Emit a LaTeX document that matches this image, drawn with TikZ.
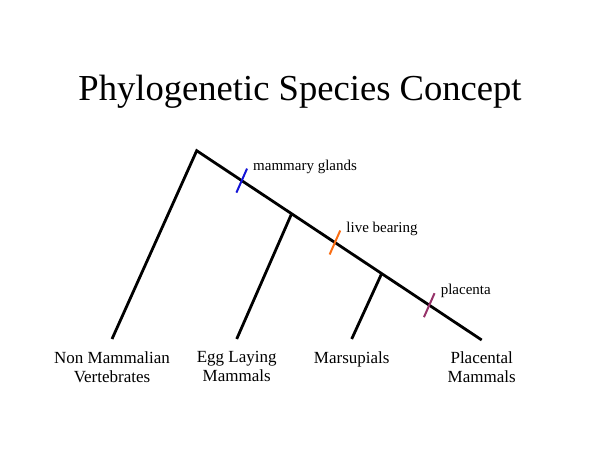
\documentclass[tikz,border=0pt]{standalone}
\usepackage{fontspec}
\setmainfont{Liberation Serif}
\usetikzlibrary{calc}

\begin{document}
\begin{tikzpicture}[x=1pt,y=-1pt,label distance=12pt,
  branch/.style={line width=2.8pt},
  trait/.style={line width=2pt},
  leaf/.style={align=center,inner sep=0pt,font=\fontsize{17}{19}\selectfont},
  tag/.style={anchor=base west,inner sep=0pt,font=\fontsize{15}{18}\selectfont}]
\definecolor{glands}{RGB}{20,20,215} \definecolor{bearing}{RGB}{250,110,20}
\definecolor{placenta}{RGB}{150,50,105}
\useasboundingbox (0,0) rectangle (600,450);
\node [anchor=base,font=\fontsize{36.6}{42}\selectfont] (title) at (300,100) {Phylogenetic Species Concept};
% tree
\coordinate (root) at (196.7,150.7);
\coordinate [label={[leaf]below:Non Mammalian\\Vertebrates}] (nonmam) at (112,339);
\coordinate [label={[leaf]below:Egg Laying\\Mammals}] (egg) at (236.7,339);
\coordinate [label={[leaf]below:Marsupials}] (mars) at (351.7,339);
\coordinate [label={[leaf]below:Placental\\Mammals}] (plac) at (481.7,340);
\coordinate (eggfork) at ($(root)!0.333!(plac)$);
\coordinate (marsfork) at ($(root)!0.649!(plac)$);
\draw [branch] (nonmam) -- (root) -- (plac);
\draw [branch] (eggfork) -- (egg);
\draw [branch] (marsfork) -- (mars);
% traits
\foreach \pos/\trait/\name in {0.158/glands/mammary glands,0.485/bearing/live bearing,0.816/placenta/placenta}
{
\coordinate (mark) at ($(root)!\pos!(plac)$);
\draw [trait,\trait] ($(mark)+(5.3,-12)$) coordinate (tip) -- ($(mark)+(-5.3,12)$);
\node [tag] (\trait-text) at ($(tip)+(6,1.5)$) {\name};
}
\end{tikzpicture}
\end{document}
